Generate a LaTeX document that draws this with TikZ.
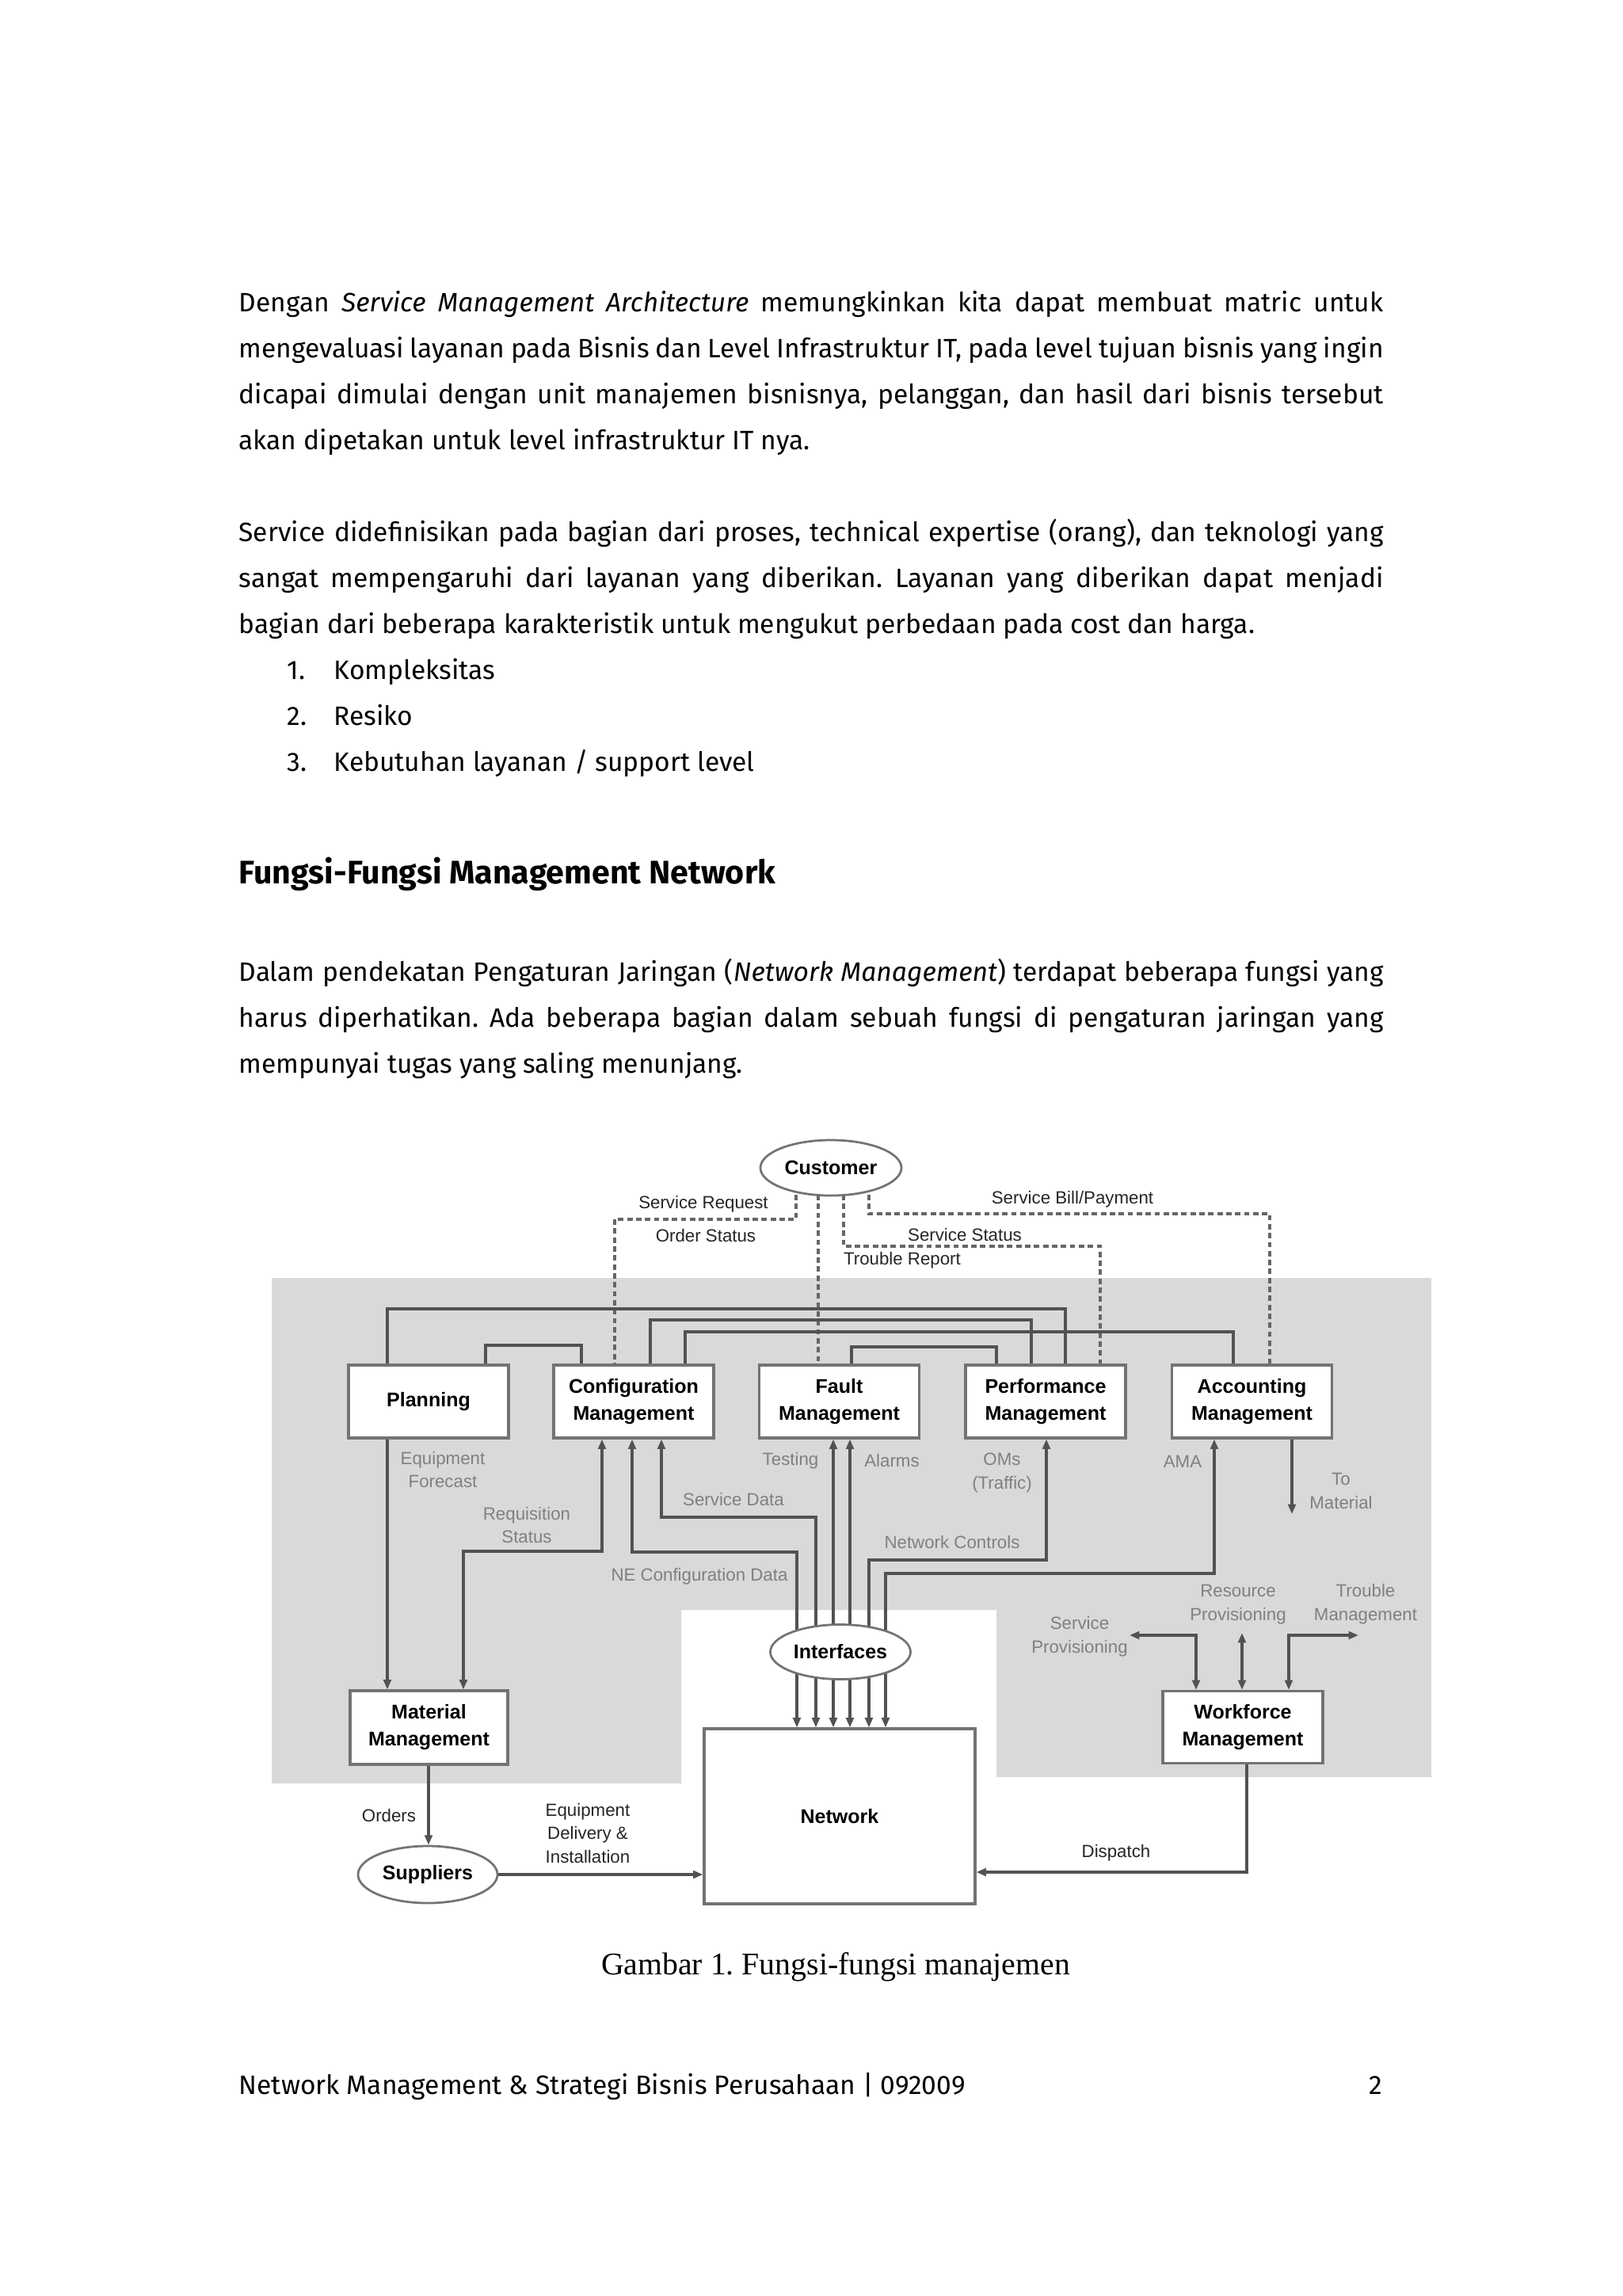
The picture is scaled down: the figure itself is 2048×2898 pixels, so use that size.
\documentclass[tikz,border=0pt]{standalone}
\usepackage{fontspec}
\setmainfont{Fira Sans}
\newfontfamily\diagf{Liberation Sans}
\newfontfamily\capf{Liberation Serif}
\usetikzlibrary{shapes.geometric,arrows.meta}
\pgfdeclarelayer{back}
\pgfdeclarelayer{mid}
\pgfsetlayers{back,mid,main}
\frenchspacing
\newcommand{\bodyfont}{\fontsize{9.8pt}{12pt}\selectfont}
\newcommand{\jline}[1]{\makebox[14.817cm][s]{#1}}
\newcommand{\lblfont}{\diagf\fontsize{6.5pt}{8.7pt}\selectfont}
\newcommand{\boxfont}{\diagf\bfseries\fontsize{7.3pt}{9.9pt}\selectfont}
\begin{document}
\begin{tikzpicture}[x=0.0102539cm, y=-0.0102539cm,
  txt/.style={anchor=base west, inner sep=0pt, font=\bodyfont},
  box/.style={draw=black!55, line width=0.9pt, fill=white, minimum width=2.0713cm, minimum height=0.9434cm, align=center, inner sep=0pt, font=\boxfont},
  oval/.style={ellipse, draw=black!55, line width=0.8pt, fill=white, inner sep=0pt, font=\boxfont},
  flow/.style={draw=black!68, line width=1.1pt},
  dsh/.style={draw=black!60, line width=0.9pt, dash pattern=on 2pt off 1.3pt},
  lbl/.style={font=\lblfont, text=black!50, align=center, inner sep=0pt},
  lbld/.style={lbl, text=black!85},
  >={Triangle[length=3.6pt,width=2.8pt]}]
\useasboundingbox (0,0) rectangle (2048,2898);
\begin{pgfonlayer}{back}
\fill[white] (0,0) rectangle (2048,2898);
\fill[black!15] (343,1613) -- (1807,1613) -- (1807,2243) -- (1258,2243) -- (1258,2032) -- (860,2032) -- (860,2251) -- (343,2251) -- cycle;
\end{pgfonlayer}

% ---------------- body text ----------------
\node[txt] (p1a) at (301,393) {\jline{Dengan \textit{Service Management Architecture} memungkinkan kita dapat membuat matric untuk}};
\node[txt] (p1b) at (301,451) {\jline{mengevaluasi layanan pada Bisnis dan Level Infrastruktur IT, pada level tujuan bisnis yang ingin}};
\node[txt] (p1c) at (301,509) {\jline{dicapai dimulai dengan unit manajemen bisnisnya, pelanggan, dan hasil dari bisnis tersebut}};
\node[txt] (p1d) at (301,567) {akan dipetakan untuk level infrastruktur IT nya.};

\node[txt] (p2a) at (301,683) {\jline{Service didefinisikan pada bagian dari proses, technical expertise (orang), dan teknologi yang}};
\node[txt] (p2b) at (301,741) {\jline{sangat mempengaruhi dari layanan yang diberikan. Layanan yang diberikan dapat menjadi}};
\node[txt] (p2c) at (301,799) {bagian dari beberapa karakteristik untuk mengukut perbedaan pada cost dan harga.};
\node[txt] (n1) at (362,857) {1.};
\node[txt] (i1) at (421,857) {Kompleksitas};
\node[txt] (n2) at (362,915) {2.};
\node[txt] (i2) at (421,915) {Resiko};
\node[txt] (n3) at (362,973) {3.};
\node[txt] (i3) at (421,973) {Kebutuhan layanan / support level};

\node[txt, font=\fontsize{12pt}{14pt}\selectfont\bfseries] (head) at (301,1115) {Fungsi-Fungsi Management Network};

\node[txt] (p3a) at (301,1238) {\jline{Dalam pendekatan Pengaturan Jaringan (\textit{Network Management}) terdapat beberapa fungsi yang}};
\node[txt] (p3b) at (301,1296) {\jline{harus diperhatikan. Ada beberapa bagian dalam sebuah fungsi di pengaturan jaringan yang}};
\node[txt] (p3c) at (301,1354) {mempunyai tugas yang saling menunjang.};

\node[anchor=base, inner sep=0pt, font=\capf\fontsize{11.6pt}{14pt}\selectfont] (cap) at (1055,2492) {Gambar 1. Fungsi-fungsi manajemen};
\node[txt] (foot) at (301,2643) {Network Management \& Strategi Bisnis Perusahaan | 092009};
\node[anchor=base east, inner sep=0pt, font=\bodyfont] (pg) at (1746,2643) {2};

% ---------------- diagram nodes ----------------
\node[oval, minimum width=1.8252cm, minimum height=0.7178cm] (cust) at (1049,1474) {Customer};
\node[box] (plan)  at (541,1769)    {Planning};
\node[box] (conf)  at (800,1769)    {Configuration\\Management};
\node[box] (fault) at (1059.5,1769) {Fault\\Management};
\node[box] (perf)  at (1320,1769)   {Performance\\Management};
\node[box] (acc)   at (1580.5,1769) {Accounting\\Management};
\node[box, minimum width=2.0405cm, minimum height=0.9536cm] (mat) at (541.5,2180.5) {Material\\Management};
\node[box, minimum height=0.9331cm] (wf) at (1569,2180) {Workforce\\Management};
\node[box, minimum width=3.5068cm, minimum height=2.2661cm] (net) at (1060,2292.5) {Network};
\node[oval, minimum width=1.815cm, minimum height=0.7075cm] (ifc) at (1061,2085) {Interfaces};
\node[oval, minimum width=1.8047cm, minimum height=0.7383cm] (sup) at (540,2366) {Suppliers};

\coordinate (spEnd) at (1426,2064);
\coordinate (rpEnd) at (1568,2061);
\coordinate (tmEnd) at (1715,2064);
\coordinate (toMat) at (1631,1911);

% ---------------- connectors ----------------
\begin{pgfonlayer}{mid}
% dashed customer links
\draw[dsh] (1005,0 |- cust.center) |- (776,1539) -- (776,0 |- conf.north);
\draw[dsh] (1033,0 |- cust.center) -- (1033,0 |- fault.north);
\draw[dsh] (1065,0 |- cust.center) |- (1389,1573) -- (1389,0 |- perf.north);
\draw[dsh] (1097,0 |- cust.center) |- (1603,1532) -- (1603,0 |- acc.north);
% links above the boxes
\draw[flow] (489,0 |- plan.north) |- (1345,1652) -- (1345,0 |- perf.north);
\draw[flow] (821,0 |- conf.north) |- (1302,1666) -- (1302,0 |- perf.north);
\draw[flow] (865,0 |- conf.north) |- (1557,1681) -- (1557,0 |- acc.north);
\draw[flow] (613,0 |- plan.north) |- (734,1698) -- (734,0 |- conf.north);
\draw[flow] (1075,0 |- fault.north) |- (1258,1700) -- (1258,0 |- perf.north);
% links below the boxes
\draw[flow,->] (489,0 |- plan.south) -- (489,0 |- mat.north);
\draw[flow,<->] (760,0 |- conf.south) |- (585,1958) -- (585,0 |- mat.north);
\draw[flow,<-] (798,0 |- conf.south) |- (1006,1959) -- (1006,0 |- ifc.center);
\draw[flow,<-] (835,0 |- conf.south) |- (1030,1915) -- (1030,0 |- ifc.center);
\draw[flow,<-] (1052,0 |- fault.south) -- (1052,0 |- ifc.center);
\draw[flow,<-] (1073,0 |- fault.south) -- (1073,0 |- ifc.center);
\draw[flow,<-] (1321,0 |- perf.south) |- (1097,1969) -- (1097,0 |- ifc.center);
\draw[flow,<-] (1533,0 |- acc.south) |- (1118,1986) -- (1118,0 |- ifc.center);
\draw[flow,->] (1631,0 |- acc.south) -- (toMat);
\foreach \xx in {1006,1030,1052,1073,1097,1118}
  \draw[flow,->] (\xx,0 |- ifc.center) -- (\xx,0 |- net.north);
% workforce
\draw[flow,<->] (spEnd) -| (1510,0 |- wf.north);
\draw[flow,<->] (1568,0 |- wf.north) -- (rpEnd);
\draw[flow,<->] (1627,0 |- wf.north) |- (tmEnd);
\draw[flow,->] (1574,0 |- wf.south) |- (net.east |- 0,2363);
% material / suppliers
\draw[flow,->] (541,0 |- mat.south) -- (541,0 |- sup.north);
\draw[flow,->] (sup.east) -- (sup.east -| net.west);
\end{pgfonlayer}

% ---------------- labels ----------------
\node[lbld] (lSR) at (888,1520) {Service Request};
\node[lbld] (lOS) at (891,1560) {Order Status};
\node[lbld] (lSS) at (1218,1559) {Service Status};
\node[lbld] (lTR) at (1139,1591) {Trouble Report};
\node[lbld] (lSB) at (1354,1514) {Service Bill/Payment};
\node[lbl] (lEF) at (559,1855) {Equipment\\Forecast};
\node[lbl] (lRS) at (665,1925) {Requisition\\Status};
\node[lbl] (lSD) at (926,1893) {Service Data};
\node[lbl] (lNE) at (883,1990) {NE Configuration Data};
\node[lbl] (lTe) at (998,1844) {Testing};
\node[lbl] (lAl) at (1126,1844) {Alarms};
\node[lbl] (lOM) at (1265,1859) {OMs\\(Traffic)};
\node[lbl] (lAM) at (1493,1845) {AMA};
\node[lbl] (lNC) at (1202,1947) {Network Controls};
\node[lbl] (lTM) at (1693,1882) {To\\Material};
\node[lbl] (lSP) at (1363,2066) {Service\\Provisioning};
\node[lbl] (lRP) at (1563,2025) {Resource\\Provisioning};
\node[lbl] (lTG) at (1724,2025) {Trouble\\Management};
\node[lbld] (lOr) at (491,2292) {Orders};
\node[lbld] (lED) at (742,2314) {Equipment\\Delivery \&\\Installation};
\node[lbld] (lDi) at (1409,2339) {Dispatch};
\end{tikzpicture}
\end{document}
